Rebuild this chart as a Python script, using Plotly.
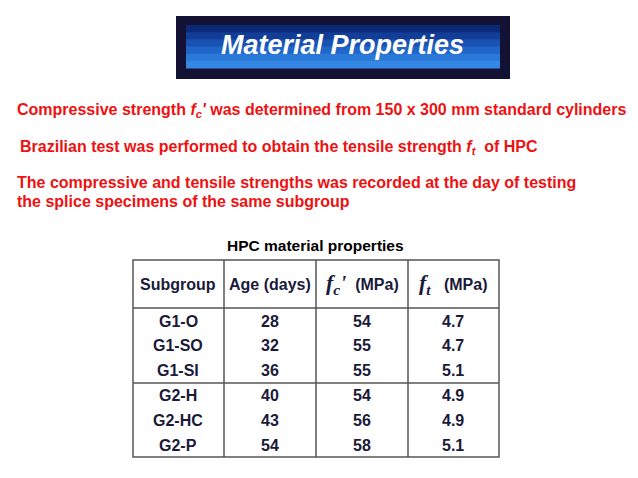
import plotly.graph_objects as go

subgroups = ["G1-O", "G1-SO", "G1-SI", "G2-H", "G2-HC", "G2-P"]
age_days = [28, 32, 36, 40, 43, 54]
fc_mpa = [54, 55, 55, 54, 56, 58]
ft_mpa = [4.7, 4.7, 5.1, 4.9, 4.9, 5.1]

F = "Liberation Sans, Arial, sans-serif"
RED = "#ee1111"
NAVY = "#1a1a3a"
fig = go.Figure()
shapes = []
ann = []

# title box
shapes.append(dict(type="rect", x0=176, x1=510, y0=16, y1=79, fillcolor="#141234", line=dict(color="#141234", width=0), layer="below"))
grad = ["#0a2a78", "#123e98", "#1a52b4", "#2066c8", "#2a78d8", "#3488e4"]
h = 43 / len(grad)
for i, c in enumerate(grad):
    shapes.append(dict(type="rect", x0=186, x1=500, y0=25 + i * h, y1=25 + (i + 1) * h + 0.5, fillcolor=c, line=dict(width=0), layer="below"))
ann.append(dict(x=342, y=45, text="<b><i>Material Properties</i></b>", font=dict(family=F, size=27, color="white"), showarrow=False))

def red(x, y, t):
    ann.append(dict(x=x, y=y, text="<b>" + t + "</b>", xanchor="left", font=dict(family=F, size=16, color=RED), showarrow=False))

red(15, 110, "Compressive strength <i>f<sub>c</sub>'</i> was determined from 150 x 300 mm standard cylinders")
red(18, 147, "Brazilian test was performed to obtain the tensile strength <i>f<sub>t</sub></i>  of HPC")
red(15, 182, "The compressive and tensile strengths was recorded at the day of testing")
red(15, 201, "the splice specimens of the same subgroup")

ann.append(dict(x=315, y=245, text="<b>HPC material properties</b>", font=dict(family=F, size=15.5, color="black"), showarrow=False))

# table lines
lc = dict(color="#555555", width=1.5)
shapes.append(dict(type="rect", x0=133, x1=499, y0=260, y1=457, line=lc))
for xv in [224, 316, 408]:
    shapes.append(dict(type="line", x0=xv, x1=xv, y0=260, y1=457, line=lc))
for yv in [308, 383]:
    shapes.append(dict(type="line", x0=133, x1=499, y0=yv, y1=yv, line=lc))

cx = [178, 270, 362, 453]
hf = dict(family=F, size=16, color=NAVY)
ann.append(dict(x=cx[0], y=284, text="<b>Subgroup</b>", font=hf, showarrow=False))
ann.append(dict(x=cx[1], y=284, text="<b>Age (days)</b>", font=hf, showarrow=False))
ann.append(dict(x=cx[2], y=284, text="<i><b><span style='font-family:Liberation Serif;font-size:22px'>f<sub>c</sub>'</span></b></i>  <b>(MPa)</b>", font=hf, showarrow=False))
ann.append(dict(x=cx[3], y=284, text="<i><b><span style='font-family:Liberation Serif;font-size:22px'>f<sub>t</sub></span></b></i>   <b>(MPa)</b>", font=hf, showarrow=False))

rows_y = [321, 345, 370, 395, 420, 445]
for i in range(len(subgroups)):
    for j, v in enumerate([subgroups[i], age_days[i], fc_mpa[i], ft_mpa[i]]):
        ann.append(dict(x=cx[j], y=rows_y[i], text="<b>%s</b>" % v, font=hf, showarrow=False))

# page body has an 8px margin: shrink the figure and offset the ranges so
# the coordinates above are window pixels
fig.update_layout(width=630, height=470, margin=dict(l=0, r=0, t=0, b=0),
                  paper_bgcolor="white", plot_bgcolor="white",
                  xaxis=dict(range=[8, 638], visible=False, fixedrange=True),
                  yaxis=dict(range=[478, 8], visible=False, fixedrange=True),
                  shapes=shapes, annotations=ann, showlegend=False)
fig.write_html("out.html")
